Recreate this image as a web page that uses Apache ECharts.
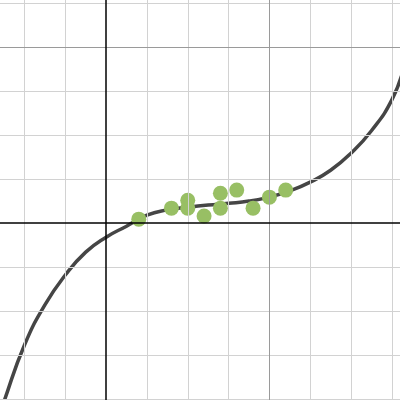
<!DOCTYPE html>
<html><head><meta charset="utf-8">
<script src="https://cdn.jsdelivr.net/npm/echarts@6/dist/echarts.min.js"></script>
<style>html,body{margin:0;padding:0;background:#fff}#c{width:400px;height:400px}</style>
</head><body><div id="c"></div>
<script>
const pointsX = [0.8,1.6,2.0,2.0,2.4,2.8,2.8,3.2,3.6,4.0,4.4];
const pointsY = [0.09,0.34,0.52,0.34,0.16,0.68,0.34,0.75,0.34,0.59,0.75];
const curveX = [-2.6,-2.5,-2,-1.5,-1,-0.5,0,0.5,1,1.5,2,2.5,3,3.5,4,4.5,5,5.5,6,6.5,7,7.3];
const curveY = [-4.35,-4.05,-2.77,-1.86,-1.18,-0.66,-0.32,-0.07,0.18,0.30,0.36,0.41,0.45,0.50,0.59,0.73,0.93,1.2,1.59,2.1,2.8,3.55];
const gridX = [-2,-1,1,2,3,5,6,7];
const gridY = [-4,-3,-2,-1,1,2,3,5];
const majorLines = [4];

const chart = echarts.init(document.getElementById('c'));
chart.setOption({
  animation:false,
  grid:{left:0,top:0,right:0,bottom:0,containLabel:false},
  xAxis:{type:'value',min:-2.6,max:7.2,axisLabel:{show:false},axisTick:{show:false},
    axisLine:{show:false},splitLine:{show:false}},
  yAxis:{type:'value',min:-4.02,max:5.07,axisLabel:{show:false},axisTick:{show:false},
    axisLine:{show:false},splitLine:{show:false}},
  series:[
    {type:'line',data:[],silent:true,
     markLine:{symbol:'none',silent:true,label:{show:false},lineStyle:{color:'#d2d2d2',width:1,type:'solid'},
       data:[...gridX.map(v=>({xAxis:v})),...gridY.map(v=>({yAxis:v}))]}},
    {type:'line',data:[],silent:true,
     markLine:{symbol:'none',silent:true,label:{show:false},lineStyle:{color:'#9a9a9a',width:1,type:'solid'},
       data:[...majorLines.map(v=>({xAxis:v})),...majorLines.map(v=>({yAxis:v}))]}},
    {type:'line',data:[],silent:true,
     markLine:{symbol:'none',silent:true,label:{show:false},lineStyle:{color:'#000',width:1.5,type:'solid'},
       data:[{xAxis:0},{yAxis:0}]}},
    {type:'line',data:curveX.map((x,i)=>[x,curveY[i]]),smooth:true,showSymbol:false,
     lineStyle:{color:'#454545',width:3.5},z:3},
    {type:'scatter',data:pointsX.map((x,i)=>[x,pointsY[i]]),symbolSize:15,
     itemStyle:{color:'#98bf64',opacity:1},z:4}
  ]
});
</script></body></html>
